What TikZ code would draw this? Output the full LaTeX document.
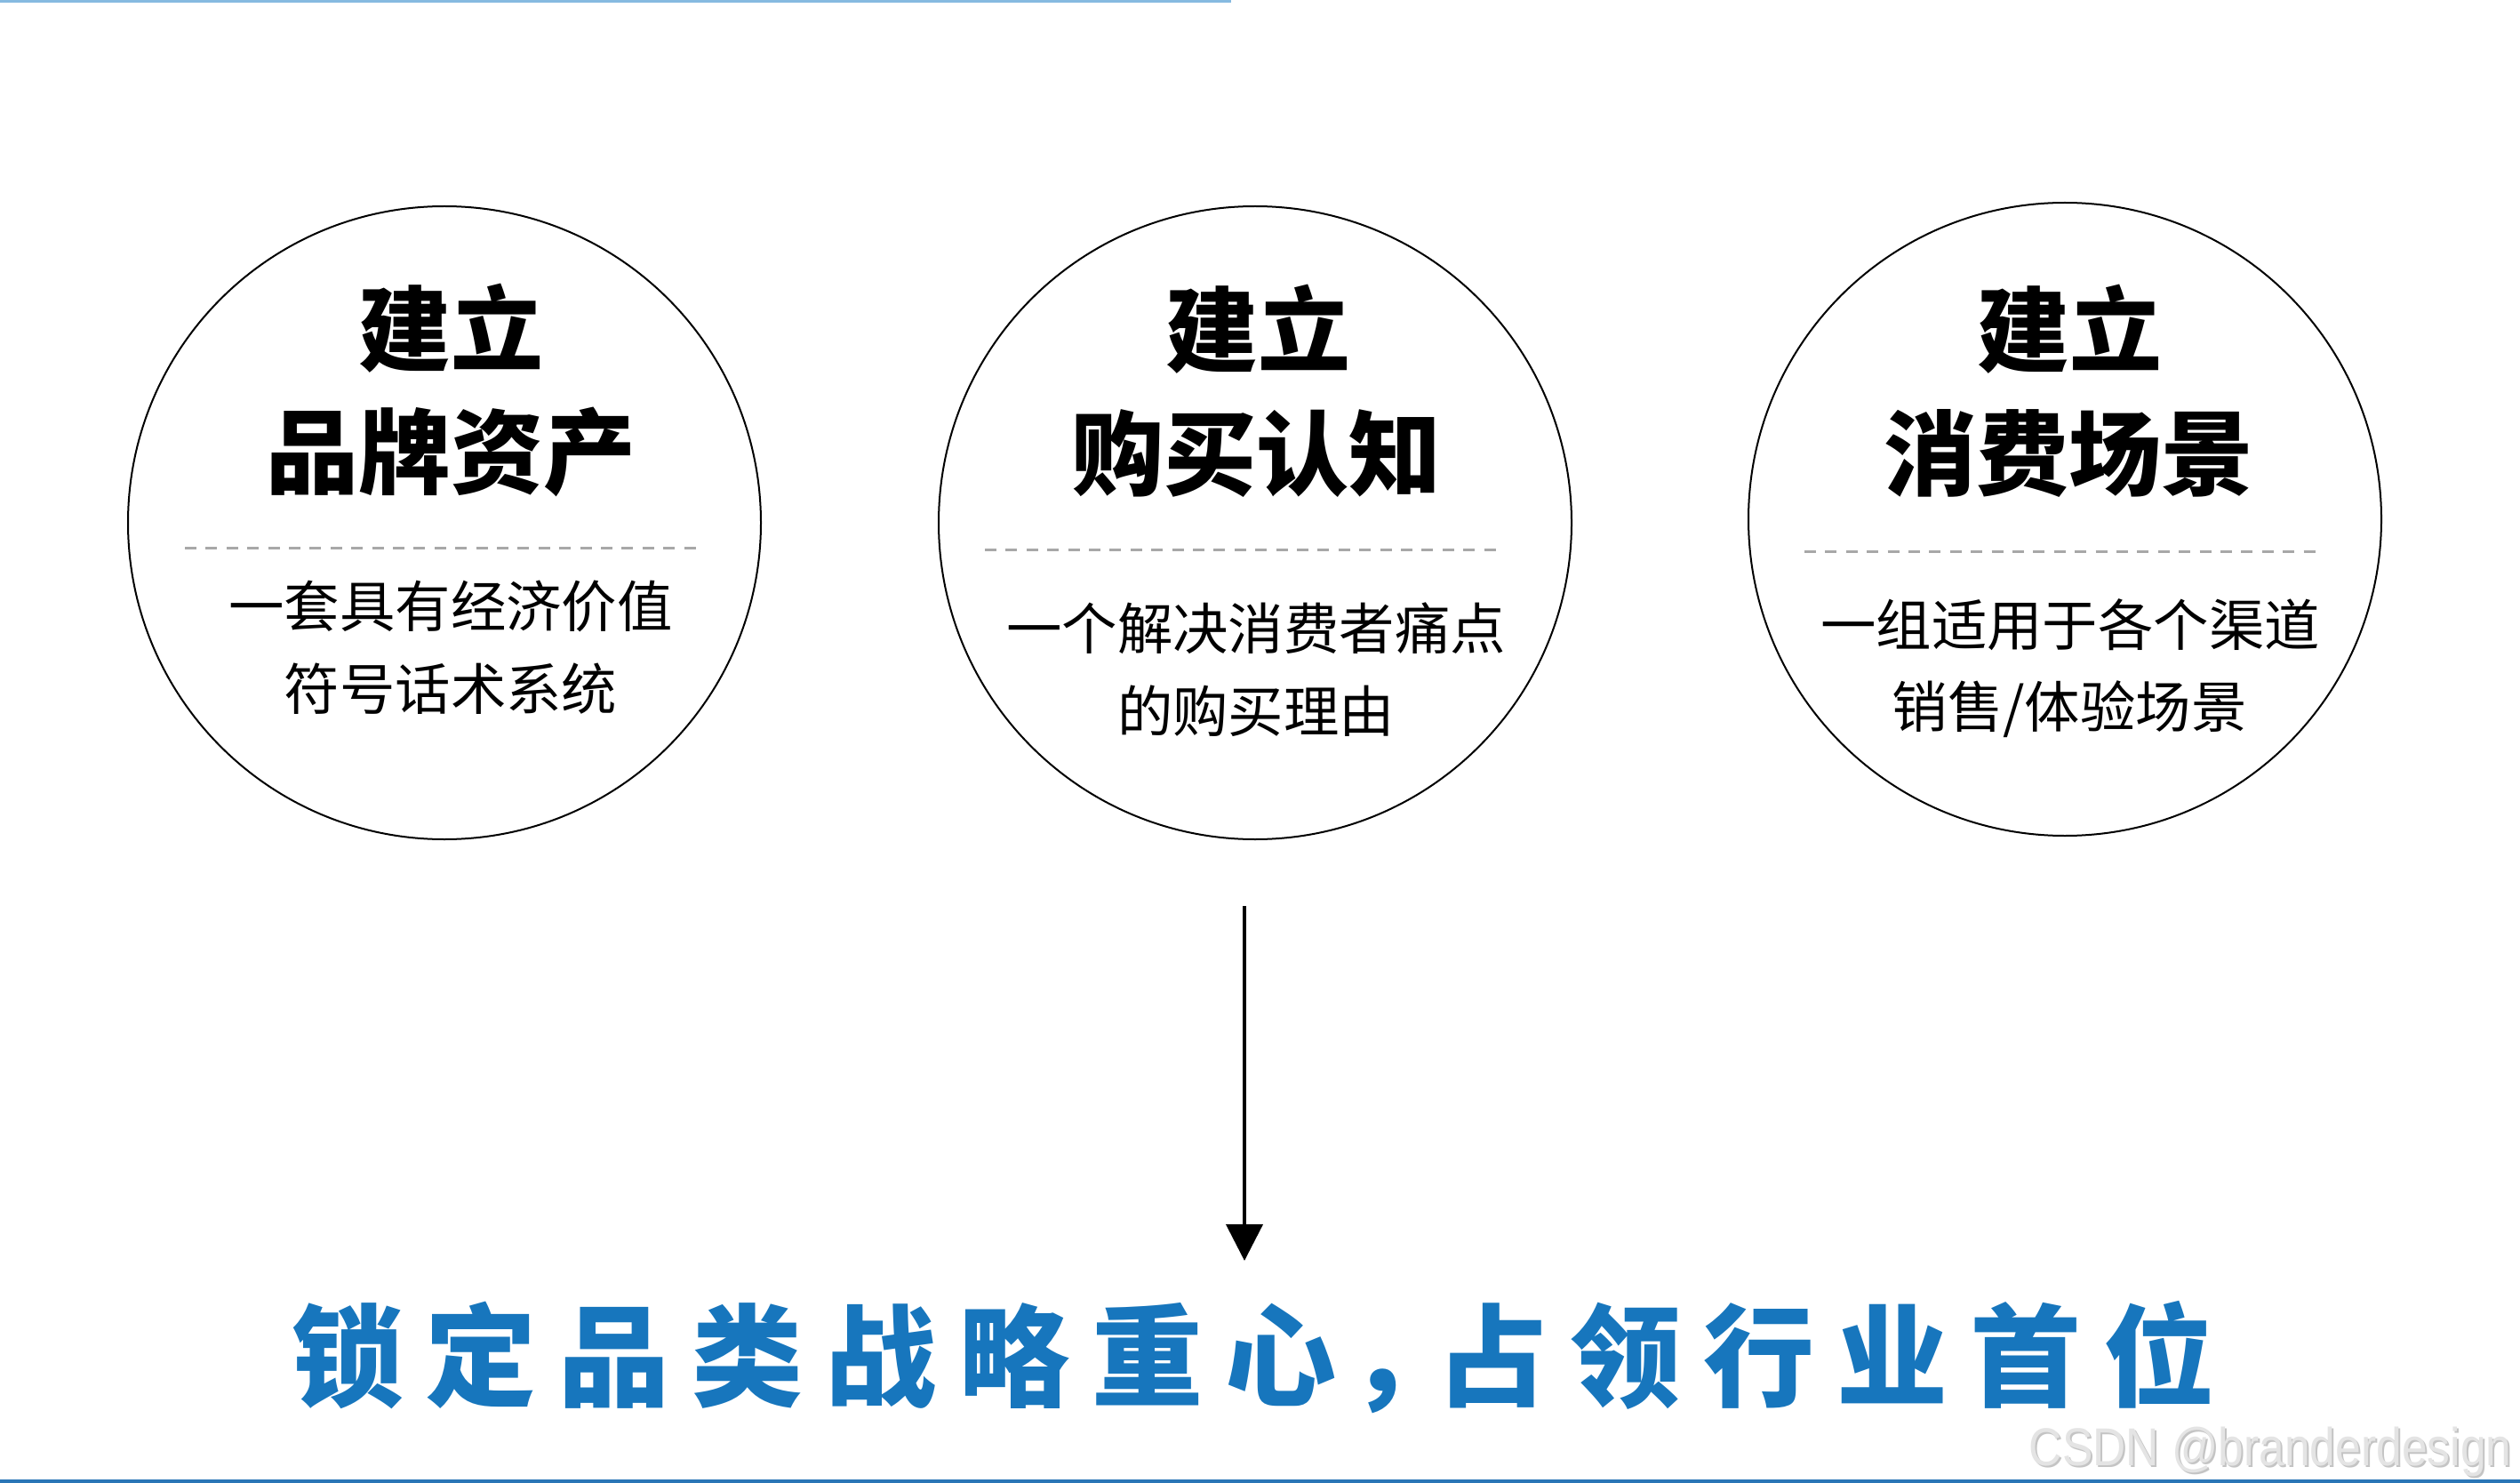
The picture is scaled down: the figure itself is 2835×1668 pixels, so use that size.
\documentclass[tikz,border=0pt]{standalone}
\usepackage{fontspec}
\setmainfont{Noto Sans CJK SC}
\newfontfamily\cjk{Noto Sans CJK SC}
\newfontfamily\wmfont[FakeStretch=0.86]{Liberation Sans}
\usetikzlibrary{arrows.meta}
\definecolor{topblue}{HTML}{86BAE0}
\definecolor{botblue}{HTML}{2A76B6}
\definecolor{mainblue}{HTML}{1776BD}
\definecolor{dashgray}{HTML}{A8A8A8}
\definecolor{wmgray}{HTML}{E4E4E4}
\definecolor{wmshadow}{HTML}{C4C4C4}
\newcommand\cjkstrut{\rule[-0.12em]{0pt}{1em}}
\begin{document}
\begin{tikzpicture}[x=0.25pt,y=-0.25pt,
  ring/.style={circle,draw=black,line width=0.5pt,minimum size=178pt,inner sep=0pt},
  titletext/.style={inner sep=0pt,font=\cjk\bfseries\fontsize{26pt}{26pt}\selectfont,execute at begin node=\cjkstrut},
  subtext/.style={inner sep=0pt,font=\cjk\fontsize{15.6pt}{15.6pt}\selectfont,execute at begin node=\cjkstrut},
  sepline/.style={draw=dashgray,line width=0.75pt,dash pattern=on 3.25pt off 2.6pt},
  bigchar/.style={inner sep=0pt,text=mainblue,font=\cjk\bfseries\fontsize{31.25pt}{31.25pt}\selectfont,execute at begin node=\cjkstrut},
  wmtext/.style={anchor=base west,inner sep=0pt,font=\wmfont\fontsize{15pt}{15pt}\selectfont}]
\useasboundingbox (0,0) rectangle (2835,1668);
\fill[white] (0,0) rectangle (2835,1668);
% edge lines
\fill[topblue] (0,0) rectangle (1385,3);
\fill[botblue] (0,1664) rectangle (2835,1668);
% circles
\node[ring] (c1) at (500,588) {};
\node[ring] (c2) at (1412,588) {};
\node[ring] (c3) at (2323,584) {};
% circle 1
\node[titletext] (t1a) at (507,370) {建立};
\node[titletext] (t1b) at (507,508) {品牌资产};
\draw[sepline] (208,616) -- (792,616);
\node[subtext] (s1a) at (507,682) {一套具有经济价值};
\node[subtext] (s1b) at (507,775) {符号话术系统};
% circle 2
\node[titletext] (t2a) at (1415,371) {建立};
\node[titletext] (t2b) at (1413,510) {购买认知};
\draw[sepline] (1108,618) -- (1692,618);
\node[subtext] (s2a) at (1413,707) {一个解决消费者痛点};
\node[subtext] (s2b) at (1413,800) {的购买理由};
% circle 3
\node[titletext] (t3a) at (2328,371) {建立};
\node[titletext] (t3b) at (2327,510) {消费场景};
\draw[sepline] (2030,620) -- (2612,620);
\node[subtext] (s3a) at (2329,703) {一组适用于各个渠道};
\node[subtext] (s3b) at (2328,797) {销售/体验场景};
% arrow
\coordinate (atop) at (1400,1019);
\coordinate (atip) at (1400,1418);
\draw[line width=1pt,-{Triangle[width=10.25pt,length=10.25pt]}] (atop) -- (atip);
% bottom slogan
\foreach \ch [count=\i] in {锁,定,品,类,战,略,重,心}
  \node[bigchar] (b\i) at ({391+(\i-1)*150},1525) {\ch};
\node[bigchar] (bcomma) at (1580,1525) {，};
\foreach \ch [count=\i] in {占,领,行,业,首,位}
  \node[bigchar] (d\i) at ({1679+(\i-1)*150},1525) {\ch};
% watermark
\node[wmtext,text=wmshadow] (wmshade) at (2284,1650) {CSDN @branderdesign};
\node[wmtext,text=wmgray] (wm) at (2282,1648) {CSDN @branderdesign};
\end{tikzpicture}
\end{document}
